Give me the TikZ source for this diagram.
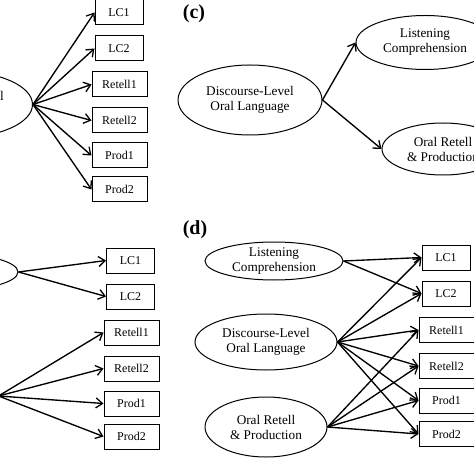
\documentclass[tikz,border=0pt]{standalone}
\usepackage{fontspec}
\setmainfont{Liberation Serif}
\usetikzlibrary{shapes.geometric,arrows.meta}
\tikzset{
  ell/.style={draw, ellipse, line width=1bp, inner sep=0pt},
  etext/.style={align=center, font=\fontsize{13.3}{15}\selectfont, inner sep=0pt},
  lcbox/.style={draw, line width=1bp, minimum width=48bp, minimum height=25bp, inner sep=0pt, font=\fontsize{12}{14}\selectfont},
  rbox/.style={draw, line width=1bp, minimum width=55bp, minimum height=25bp, inner sep=0pt, font=\fontsize{12}{14}\selectfont},
  arr/.style={-{Straight Barb[length=6.5bp,width=10bp,line width=1.3bp]}, line width=1.35bp},
  plabel/.style={font=\fontsize{20}{22}\selectfont\bfseries, inner sep=0pt}
}
\begin{document}
\begin{tikzpicture}[x=1bp,y=-1bp]
\useasboundingbox (0,0) rectangle (474,474);
\clip (0,0) rectangle (474,474);
% ---------- panel (a) ----------
\node[ell, minimum width=145bp, minimum height=66bp] (aD) at (-40,104.5) {};
\node[etext] (aDt) at (aD) {Discourse-Level\\Oral Language};
\node[lcbox] (aLC1) at (119,12.5) {LC1};
\node[lcbox] (aLC2) at (119,48.5) {LC2};
\node[rbox] (aR1) at (119.5,84.5) {Retell1};
\node[rbox] (aR2) at (119.5,120.5) {Retell2};
\node[rbox] (aP1) at (119.5,155.5) {Prod1};
\node[rbox] (aP2) at (119.5,189.5) {Prod2};
\foreach \b in {aLC1,aLC2,aR1,aR2,aP1,aP2} \draw[arr] (aD.east) -- (\b.west);
% ---------- panel (b) ----------
\node[ell, minimum width=138bp, minimum height=37bp] (bL) at (-51,272) {};
\node[etext] (bLt) at (bL) {Listening\\Comprehension};
\node[ell, minimum width=122bp, minimum height=60bp] (bO) at (-63,396) {};
\node[etext] (bOt) at (bO) {Oral Retell\\\& Production};
\node[lcbox] (bLC1) at (130.5,260.5) {LC1};
\node[lcbox] (bLC2) at (130.5,296.5) {LC2};
\node[rbox] (bR1) at (131.5,332.5) {Retell1};
\node[rbox] (bR2) at (131.5,368.5) {Retell2};
\node[rbox] (bP1) at (131.5,403.5) {Prod1};
\node[rbox] (bP2) at (131.5,436.5) {Prod2};
\foreach \b in {bLC1,bLC2} \draw[arr] (bL.east) -- (\b.west);
\foreach \b in {bR1,bR2,bP1,bP2} \draw[arr] (bO.east) -- (\b.west);
% ---------- panel (c) ----------
\node[plabel] (lc) at (194,14) {(c)};
\node[ell, minimum width=144bp, minimum height=70bp] (cD) at (250,100) {};
\node[etext] (cDt) at (cD) {Discourse-Level\\Oral Language};
\node[ell, minimum width=138bp, minimum height=54bp] (cL) at (425,42.5) {};
\node[etext] (cLt) at (cL) {Listening\\Comprehension};
\node[ell, minimum width=122bp, minimum height=52bp] (cO) at (443,149) {};
\node[etext] (cOt) at (cO) {Oral Retell\\\& Production};
\draw[arr] (cD.east) -- (cL.west);
\draw[arr] (cD.east) -- (cO.west);
% ---------- panel (d) ----------
\node[plabel] (ld) at (195,230) {(d)};
\node[ell, minimum width=138bp, minimum height=38bp] (dL) at (274,261) {};
\node[etext] (dLt) at (dL) {Listening\\Comprehension};
\node[ell, minimum width=142bp, minimum height=56bp] (dD) at (266,342) {};
\node[etext] (dDt) at (dD) {Discourse-Level\\Oral Language};
\node[ell, minimum width=122bp, minimum height=60bp] (dO) at (266,427) {};
\node[etext] (dOt) at (dO) {Oral Retell\\\& Production};
\node[lcbox] (dLC1) at (446,257.5) {LC1};
\node[lcbox] (dLC2) at (446,293.5) {LC2};
\node[rbox] (dR1) at (446.5,330) {Retell1};
\node[rbox] (dR2) at (446.5,366) {Retell2};
\node[rbox] (dP1) at (446.5,400.5) {Prod1};
\node[rbox] (dP2) at (446.5,434) {Prod2};
\foreach \b in {dLC1,dLC2} \draw[arr] (dL.east) -- (\b.west);
\foreach \b in {dLC1,dLC2,dR1,dR2,dP1,dP2} \draw[arr] (dD.east) -- (\b.west);
\foreach \b in {dR1,dR2,dP1,dP2} \draw[arr] (dO.east) -- (\b.west);
\end{tikzpicture}
\end{document}
